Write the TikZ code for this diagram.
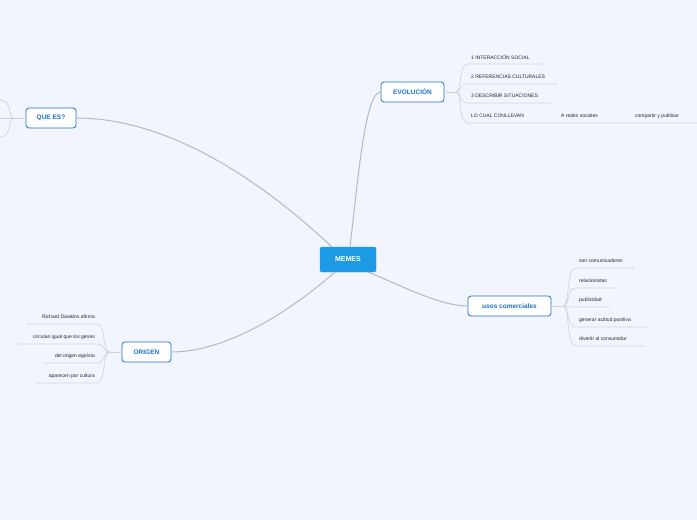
\documentclass[tikz,border=0pt]{standalone}
\usepackage{fontspec}
\setmainfont{Liberation Sans}
\definecolor{bg}{HTML}{F2F5FD}
\definecolor{mblue}{HTML}{1C9AE6}
\definecolor{tblue}{HTML}{1E6FD0}
\definecolor{lgray}{HTML}{B4B8C0}
\definecolor{sgray}{HTML}{D0D3D8}
\begin{document}
\begin{tikzpicture}[x=1pt,y=-1pt,
  main/.style={draw=mblue,fill=mblue,rounded corners=2pt,minimum width=56pt,minimum height=25pt,text=white,font=\bfseries\fontsize{7}{8}\selectfont},
  topic/.style={draw=tblue,fill=white,line width=0.8pt,rounded corners=3pt,minimum height=20pt,inner xsep=6pt,text=tblue,font=\bfseries\fontsize{6.5}{7}\selectfont},
  sub/.style={font=\fontsize{5}{6}\selectfont,text=black!85,inner sep=1pt},
  conn/.style={draw=lgray,line width=1pt},
  br/.style={draw=sgray,line width=0.7pt}]
\fill[bg] (0,0) rectangle (697,520);
\useasboundingbox (0,0) rectangle (697,520);
\node[main] (m) at (348,259.5) {MEMES};
\node[topic,minimum width=50pt] (q) at (51,118) {QUE ES?};
\node[topic,minimum width=63pt] (e) at (412.5,92) {EVOLUCIÓN};
\node[topic,minimum width=49pt] (o) at (146.5,352) {ORIGEN};
\node[topic,minimum width=83pt] (u) at (509.5,306) {usos comerciales};
\draw[conn] (m.north west) ++(12,0) .. controls (250,170) and (160,118) .. (q.east);
\draw[conn] (m.north) ++(2,0) .. controls (358,180) and (365,92) .. (e.west);
\draw[conn] (m.south west) ++(15,0) .. controls (280,320) and (220,352) .. (o.east);
\draw[conn] (m.south east) ++(-8,0) .. controls (400,285) and (440,306) .. (u.west);
% EVOLUCION
\coordinate (ef) at (456,92);
\draw[br] (e.east) -- (ef);
\foreach \y/\t/\w [count=\i] in {57/1 INTERACCIÓN SOCIAL/543, 77/2 REFERENCIAS CULTURALES/557, 96/3 DESCRIBIR SITUACIONES/552}{
  \node[sub,anchor=west] (e\i) at (470,\y) {\t};
  \draw[br] (ef) .. controls (462,92) and (458,\y+7) .. (468,\y+7) -- (\w,\y+7);
}
\node[sub,anchor=west] (e4) at (470,116) {LO CUAL CONLLEVAN};
\node[sub,anchor=west] (e5) at (560,116) {A redes sociales};
\node[sub,anchor=west] (e6) at (634,116) {compartir y publicar};
\draw[br] (ef) .. controls (462,92) and (458,123) .. (468,123) -- (697,123);
% USOS
\coordinate (uf) at (563,306);
\draw[br] (u.east) -- (uf);
\foreach \y/\t/\w [count=\i] in {261/son comunicadores/635, 281/relacionistas/617, 300/publicidad/610, 320/generar actitud positiva/648, 339/divertir al consumidor/645}{
  \node[sub,anchor=west] (u\i) at (578,\y) {\t};
  \draw[br] (uf) .. controls (570,306) and (566,\y+7) .. (576,\y+7) -- (\w,\y+7);
}
% ORIGEN
\coordinate (of) at (110,352);
\draw[br] (o.west) -- (of);
\foreach \y/\t/\w [count=\i] in {317/Richard Dawkins afirma/27, 337/circulan igual que los genes/17, 356/del origen egoísta/44, 376/aparecen por cultura/36}{
  \node[sub,anchor=east] (o\i) at (96,\y) {\t};
  \draw[br] (of) .. controls (102,352) and (106,\y+7) .. (97,\y+7) -- (\w,\y+7);
}
% QUE ES
\coordinate (qf) at (14,118);
\draw[br] (q.west) -- (0,118);
\draw[br] (qf) .. controls (8,118) and (12,100) .. (0,100);
\draw[br] (qf) .. controls (8,118) and (12,137) .. (0,137);
\end{tikzpicture}
\end{document}
